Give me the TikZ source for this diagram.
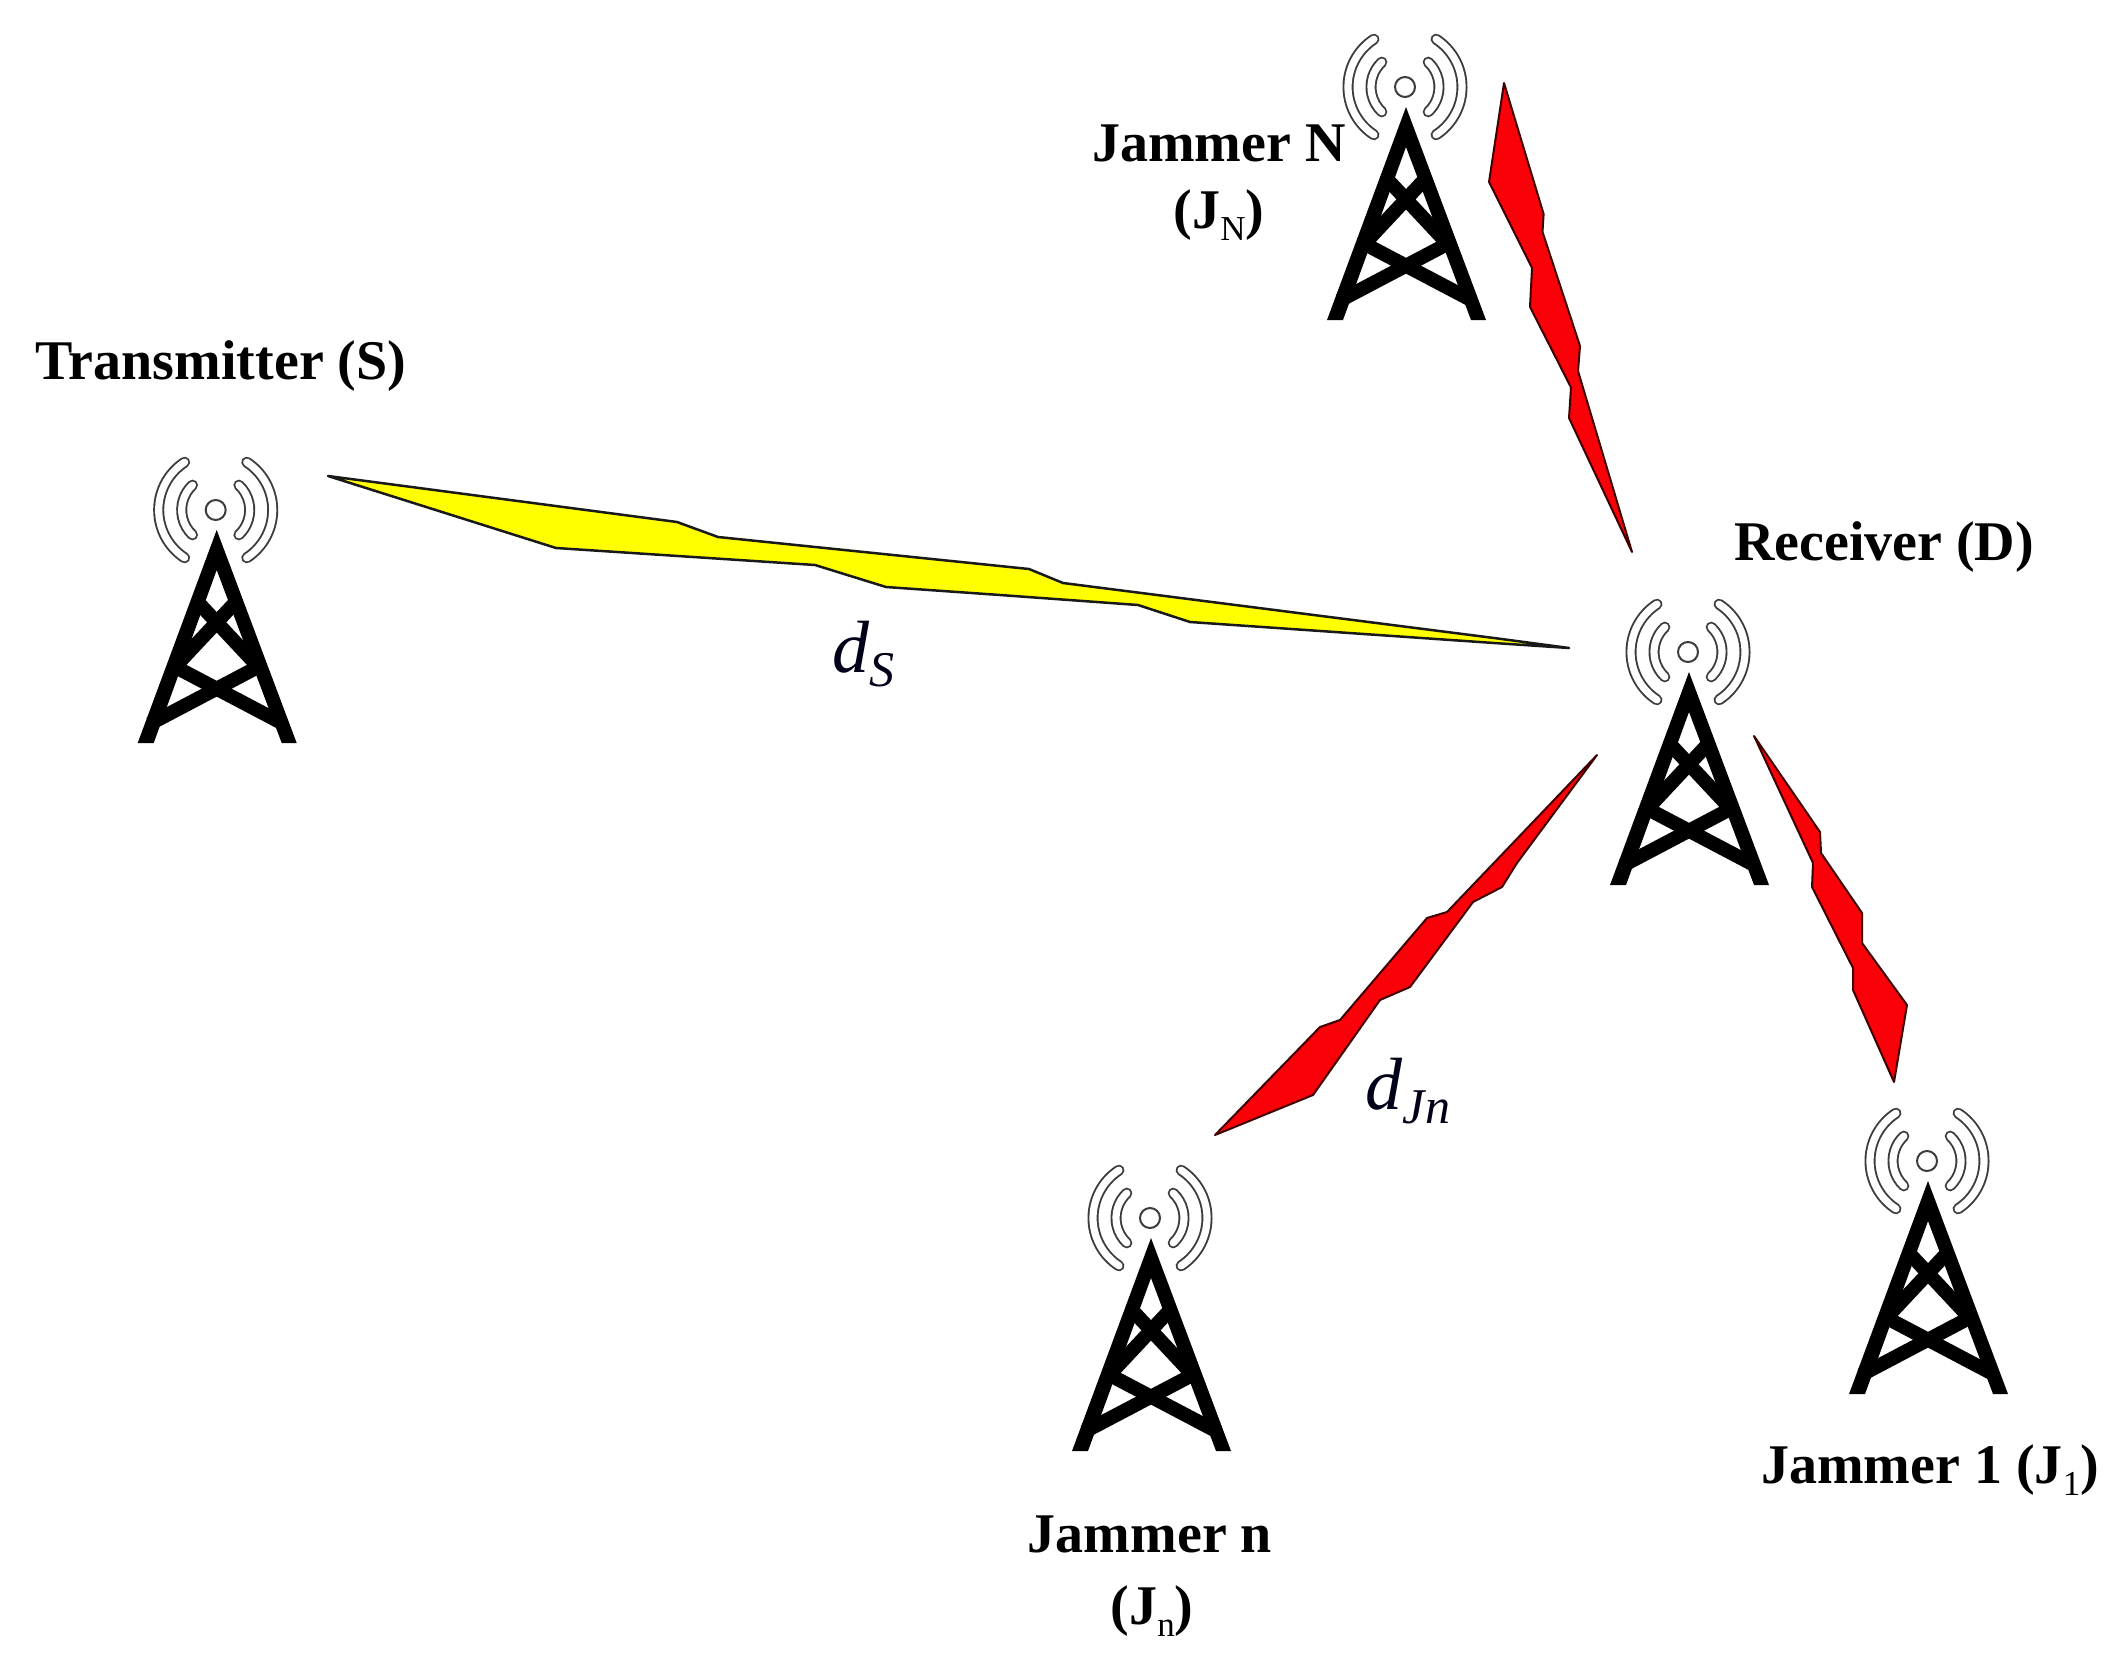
\documentclass[tikz,border=0pt]{standalone}
\usepackage{fontspec}
\setmainfont{Liberation Serif}
\definecolor{wavegray}{RGB}{60,60,60}
\definecolor{boltred}{RGB}{250,0,8}
\definecolor{boltyellow}{RGB}{255,255,0}
\newcommand{\labfont}{\fontsize{56}{60}\selectfont\bfseries}
\newcommand{\subtxt}[1]{\raisebox{-0.22em}{\fontsize{35}{35}\selectfont\mdseries #1}}
\newcommand{\dvar}[2]{{\fontsize{74}{74}\selectfont\itshape d\raisebox{-0.18em}{\fontsize{50}{50}\selectfont #2}}}
\tikzset{
  wave/.style={draw=wavegray,line width=1.9pt,double=white,double distance=7.2pt,line cap=round},
  brace/.style={draw=black,line width=14pt},
  lab/.style={inner sep=0pt,align=center,font=\labfont,text=black},
  mathlab/.style={inner sep=0pt,text=black!90!blue},
  redbolt/.style={fill=boltred,draw=black!75!red,line width=2pt,line join=round},
  yellowbolt/.style={fill=boltyellow,draw=black!90,line width=2.5pt,line join=round},
  tower/.pic={
    \draw[wave] (123:57pt) arc[start angle=123,end angle=237,radius=57pt];
    \draw[wave] (-57:57pt) arc[start angle=-57,end angle=57,radius=57pt];
    \draw[wave] (133:34pt) arc[start angle=133,end angle=227,radius=34pt];
    \draw[wave] (-47:34pt) arc[start angle=-47,end angle=47,radius=34pt];
    \draw[draw=wavegray,line width=2pt,fill=white] (0,0) circle (10pt);
    \fill[black] (1,20) -- (-78,233) -- (-62,233) -- (1,60) -- (66,233) -- (81,233) -- cycle;
    \draw[brace] (-44,155) -- (68,214);
    \draw[brace] (46,155) -- (-66,214);
    \draw[brace] (-38,154) -- (20,92);
    \draw[brace] (40,154) -- (-18,92);
  }
}
\begin{document}
\begin{tikzpicture}[x=1pt,y=-1pt]
\useasboundingbox[fill=white] (0,0) rectangle (2125,1656);
% towers
\pic (towerS) at (215.7,510) {tower};
\pic (towerN) at (1405,87) {tower};
\pic (towerD) at (1688,652) {tower};
\pic (towerJn) at (1150,1218) {tower};
\pic (towerJo) at (1927,1161) {tower};
% signal bolts
\path[yellowbolt] (328,476) -- (677,522) -- (718,537) -- (1029,569) -- (1063,583) -- (1494,638) -- (1569,648)
  -- (1494,643) -- (1190,622) -- (1138,605) -- (1000,595) -- (886,587) -- (815,565) -- (556,548) -- cycle;
\path[redbolt] (1504,83) -- (1543.6,214) -- (1542.5,232) -- (1580,346) -- (1578,371) -- (1632,552)
  -- (1569,418) -- (1571,387.5) -- (1530,307) -- (1532,268) -- (1489,182) -- cycle;
\path[redbolt] (1597,755) -- (1447,912) -- (1427,918) -- (1340,1020) -- (1320,1027) -- (1215,1135)
  -- (1313,1095) -- (1380,1000) -- (1410,987) -- (1473,902) -- (1502,887) -- (1517,863) -- cycle;
\path[redbolt] (1754,736) -- (1820,832) -- (1821,853) -- (1862,913) -- (1862,943) -- (1907,1005) -- (1894,1082)
  -- (1853,990) -- (1853,968) -- (1812,887) -- (1813,863) -- cycle;
% labels
\node[lab] (lS) at (221,366) {Transmitter (S)};
\node[lab] (lN) at (1219,143) {Jammer N};
\node[lab] (lNb) at (1219,215) {(J\subtxt{N})};
\node[lab] (lD) at (1884,547) {Receiver (D)};
\node[lab] (lOne) at (1930,1470) {Jammer 1 (J\subtxt{1})};
\node[lab] (ln) at (1150,1534) {Jammer n};
\node[lab] (lnb) at (1152,1611) {(J\subtxt{n})};
\node[mathlab] (dS) at (863,654) {\dvar{d}{S}};
\node[mathlab] (dJ) at (1408,1091) {\dvar{d}{Jn}};
\end{tikzpicture}
\end{document}
